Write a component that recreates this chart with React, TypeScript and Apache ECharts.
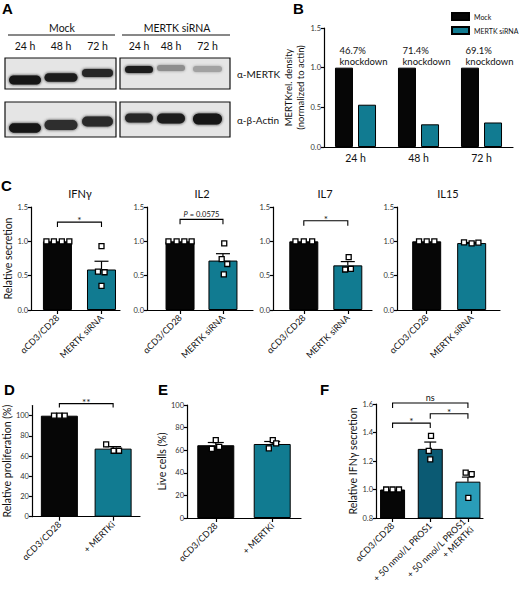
import React, { useEffect, useRef } from 'react';
import * as echarts from 'echarts';

const FONT = 'Lato';
const BLACK = '#060606';
const TEAL = '#117b91';
const TEAL_DARK = '#0b5a73';
const TEAL_LIGHT = '#2a9db8';

// ---------- Panel B ----------
const timeLabels = ['24 h', '48 h', '72 h'];
const mockDensity = [1, 1, 1];
const sirnaDensity = [0.533, 0.286, 0.309];
const knockdownLabels = ['46.7%', '71.4%', '69.1%'];
const bYTicks = [0, 0.5, 1, 1.5];

// ---------- Panel C ----------
const cGroups = ['αCD3/CD28', 'MERTK siRNA'];
const cytokines = ['IFNγ', 'IL2', 'IL7', 'IL15'];
const cCtrlMeans = [1, 1, 1, 1];
const cSirnaMeans = [0.59, 0.72, 0.65, 0.975];
const cSirnaSem = [0.12, 0.1, 0.055, 0.008];
const cCtrlPoints = [[1, 1, 1, 1], [1, 1, 1, 1], [1, 1, 1], [1, 1, 1]];
const cCtrlJitter = [[-0.25, -0.08, 0.1, 0.27], [-0.27, -0.08, 0.1, 0.27], [-0.19, 0, 0.19], [-0.17, 0, 0.17]];
const cSirnaPoints = [[0.93, 0.56, 0.55, 0.35], [0.97, 0.74, 0.67, 0.52], [0.77, 0.59, 0.6], [0.985, 0.97, 0.98]];
const cSirnaJitter = [[0, -0.08, 0.07, 0], [0.03, -0.03, 0.1, 0.02], [0.02, -0.06, 0.07], [-0.17, 0, 0.15]];
const cSigLabels = ['*', '{i|P} = 0.0575', '*', ''];
const cSigLevels = [1.28, 1.32, 1.3, 0];
const cYTicks = [0, 0.5, 1, 1.5];

// ---------- Panel D ----------
const dGroups = ['αCD3/CD28', '+ MERTKi'];
const dMeans = [100, 67.4];
const dSem = [0, 2];
const dPoints = [[100, 100, 100], [71.7, 65.3, 65.3]];
const dJitter = [[-0.1, 0, 0.1], [-0.13, 0.01, 0.11]];
const dYTicks = [0, 20, 40, 60, 80, 100];
const dSigLabel = '**';
const dSigLevel = 112;

// ---------- Panel E ----------
const eGroups = ['αCD3/CD28', '+ MERTKi'];
const eMeans = [64.4, 65.5];
const eSem = [2.4, 2.2];
const ePoints = [[69, 61.2, 63], [69, 61.6, 66]];
const eJitter = [[0, -0.07, 0.06], [0.01, -0.06, 0.07]];
const eYTicks = [0, 20, 40, 60, 80, 100];

// ---------- Panel F ----------
const fGroups = ['αCD3/CD28', '+ 50 nmol/L PROS1', '+ 50 nmol/L PROS1\n+ MERTKi'];
const fMeans = [1, 1.285, 1.055];
const fSem = [0, 0.048, 0.032];
const fPoints = [[1, 1, 1], [1.377, 1.271, 1.212], [1.118, 1.108, 0.941]];
const fJitter = [[-0.17, 0, 0.17], [0.02, -0.04, 0], [-0.06, 0.1, 0.01]];
const fYTicks = [0.8, 1.0, 1.2, 1.4, 1.6];
const fSigFrom = [0, 0, 1];
const fSigTo = [2, 1, 2];
const fSigLevels = [1.607, 1.466, 1.532];
const fSigLabels = ['ns', '*', '*'];

const lineStyle = { color: '#000', width: 1.2 };

function valueXAxis(gridIndex: number, min: number, max: number, labels: string[]) {
  const idx = labels.map((_, i) => i);
  return {
    type: 'value', gridIndex, min, max,
    splitLine: { show: false },
    axisLine: { show: true, onZero: false, lineStyle },
    axisTick: { show: true, customValues: idx, length: 4, lineStyle },
    axisLabel: {
      customValues: idx,
      formatter: (v: number) => labels[Math.round(v)] ?? '',
      rotate: 45, fontSize: 9, color: '#111', margin: 6, fontFamily: FONT, lineHeight: 11,
    },
  };
}

function valueYAxis(gridIndex: number, min: number, max: number, ticks: number[], digits: number, name: string, nameGap: number) {
  return {
    type: 'value', gridIndex, min, max,
    splitLine: { show: false },
    axisLine: { show: true, onZero: false, lineStyle },
    axisTick: { show: true, customValues: ticks, length: 3, lineStyle },
    axisLabel: { customValues: ticks, formatter: (v: number) => v.toFixed(digits), fontSize: 7.5, color: '#333', margin: 3, fontFamily: FONT },
    name, nameLocation: 'middle', nameRotate: 90, nameGap,
    nameTextStyle: { fontSize: 10.5, color: '#111', fontFamily: FONT },
  };
}

function barSeries(g: number, means: number[], colors: string[], barWidth: number) {
  return {
    type: 'bar', xAxisIndex: g, yAxisIndex: g, barWidth, z: 2,
    data: means.map((m, i) => ({ value: [i, m], itemStyle: { color: colors[i], borderColor: '#000', borderWidth: 1 } })),
  };
}

function pointSeries(g: number, points: number[][], jitter: number[][]) {
  const data: number[][] = [];
  points.forEach((grp, i) => grp.forEach((v, k) => data.push([i + jitter[i][k], v])));
  return {
    type: 'scatter', xAxisIndex: g, yAxisIndex: g, z: 6, symbol: 'rect', symbolSize: 5,
    itemStyle: { color: '#fff', borderColor: '#000', borderWidth: 1.3, opacity: 1 },
    data,
  };
}

function errorSeries(g: number, means: number[], sems: number[], capHalf: number) {
  return {
    type: 'custom', xAxisIndex: g, yAxisIndex: g, z: 4,
    dimensions: ['x', 'm', 's'], encode: { x: 0, y: 1 },
    data: means.map((m, i) => [i, m, sems[i]]),
    renderItem: (_p: any, api: any) => {
      const x = api.value(0), m = api.value(1), s = api.value(2);
      if (!s) return { type: 'group', children: [] };
      const p0 = api.coord([x, m]);
      const p1 = api.coord([x, m + s]);
      return {
        type: 'group', children: [
          { type: 'line', shape: { x1: p0[0], y1: p0[1], x2: p1[0], y2: p1[1] }, style: { stroke: '#000', lineWidth: 1.2, fill: 'none' } },
          { type: 'line', shape: { x1: p1[0] - capHalf, y1: p1[1], x2: p1[0] + capHalf, y2: p1[1] }, style: { stroke: '#000', lineWidth: 1.2, fill: 'none' } },
        ],
      };
    },
  };
}

function bracketSeries(g: number, froms: number[], tos: number[], levels: number[], labels: string[], drop: number) {
  return {
    type: 'custom', xAxisIndex: g, yAxisIndex: g, z: 5,
    dimensions: ['a', 'b', 'y'], encode: { x: [0, 1], y: 2 },
    data: froms.map((f, i) => [f, tos[i], levels[i]]),
    renderItem: (params: any, api: any) => {
      const label = labels[params.dataIndex];
      const a = api.coord([api.value(0), api.value(2)]);
      const b = api.coord([api.value(1), api.value(2)]);
      const star = label.indexOf('*') === 0;
      const dy = star ? 2 : label === 'ns' ? 6 : 5;
      return {
        type: 'group', children: [
          { type: 'polyline', shape: { points: [[a[0], a[1] + drop], [a[0], a[1]], [b[0], b[1]], [b[0], b[1] + drop]] }, style: { stroke: '#000', lineWidth: 1.1, fill: 'none' } },
          {
            type: 'text', x: (a[0] + b[0]) / 2, y: a[1] - dy,
            style: {
              text: label, align: 'center', verticalAlign: 'middle', fill: '#111', fontFamily: FONT,
              fontSize: star ? 10 : label === 'ns' ? 9 : 7.5,
              rich: { i: { fontStyle: 'italic', fontSize: 7.5, fontFamily: FONT } },
            },
          },
        ],
      };
    },
  };
}

function panelAGraphics() {
  const els: any[] = [];
  const txt = (text: string, x: number, y: number, size: number, align = 'center', extra: any = {}) =>
    els.push({ type: 'text', x, y, style: { text, fontSize: size, fontFamily: FONT, fill: '#111', align, verticalAlign: 'middle', ...extra } });
  txt('Mock', 62, 28, 10.5);
  txt('MERTK siRNA', 177, 28, 10.5);
  els.push({ type: 'line', shape: { x1: 8, y1: 35, x2: 115, y2: 35 }, style: { stroke: '#111', lineWidth: 1 } });
  els.push({ type: 'line', shape: { x1: 122, y1: 35, x2: 230, y2: 35 }, style: { stroke: '#111', lineWidth: 1 } });
  const laneX = [25, 61, 97.5, 139, 171, 207.5];
  const laneW = [32, 33, 31, 28, 28, 29];
  laneX.forEach((x, i) => txt(timeLabels[i % 3], x, 46, 10.5));
  const boxes = [[5, 58, 111, 31], [120, 58, 110, 31], [5, 102, 111, 35], [120, 102, 110, 35]];
  boxes.forEach(([x, y, w, h]) => els.push({ type: 'rect', shape: { x, y, width: w, height: h }, style: { fill: '#e5e5e5', stroke: '#111', lineWidth: 1.2 } }));
  const mY = [80, 77.5, 73, 69.5, 68, 69];
  const mH = [9, 8.5, 8, 7, 6, 6];
  const mC = ['#141414', '#1b1b1b', '#262626', '#1e1e1e', '#8e8e8e', '#a2a2a2'];
  const aY = [128, 125, 121.5, 118, 118.5, 119];
  const aH = [9.5, 10, 10, 9, 10, 11];
  const aC = ['#141414', '#2e2e2e', '#2b2b2b', '#272727', '#1c1c1c', '#121212'];
  laneX.forEach((x, i) => {
    const w = laneW[i];
    els.push({ type: 'rect', shape: { x: x - w / 2, y: mY[i] - mH[i] / 2, width: w, height: mH[i], r: mH[i] / 2 }, style: { fill: mC[i], shadowBlur: 3, shadowColor: mC[i] } });
    els.push({ type: 'rect', shape: { x: x - w / 2, y: aY[i] - aH[i] / 2, width: w, height: aH[i], r: aH[i] / 2 }, style: { fill: aC[i], shadowBlur: 3, shadowColor: aC[i] } });
  });
  txt('α-MERTK', 237, 74, 10, 'left');
  txt('α-β-Actin', 237, 120, 10, 'left');
  return els;
}

function buildOption() {
  const grid: any[] = [];
  const xAxis: any[] = [];
  const yAxis: any[] = [];
  const series: any[] = [];

  // Panel B (grid 0)
  grid.push({ left: 324, top: 28, width: 189, height: 119 });
  xAxis.push({
    type: 'category', gridIndex: 0, data: timeLabels,
    axisLine: { lineStyle }, axisTick: { alignWithLabel: true, length: 4, lineStyle },
    axisLabel: { fontSize: 10.5, color: '#111', margin: 5, fontFamily: FONT },
  });
  yAxis.push({
    type: 'value', gridIndex: 0, min: 0, max: 1.5, interval: 0.5,
    splitLine: { show: false },
    axisLine: { show: true, lineStyle }, axisTick: { show: true, length: 3, lineStyle },
    axisLabel: { formatter: (v: number) => v.toFixed(1), fontSize: 7.5, color: '#333', margin: 3, fontFamily: FONT, customValues: bYTicks },
    name: 'MERTKrel. density\n(normalized to actin)', nameLocation: 'middle', nameRotate: 90, nameGap: 15,
    nameTextStyle: { fontSize: 9.5, color: '#111', fontFamily: FONT, lineHeight: 12 },
  });
  series.push({ name: 'Mock', type: 'bar', xAxisIndex: 0, yAxisIndex: 0, barWidth: 18, barGap: '28%', data: mockDensity, itemStyle: { color: BLACK, borderColor: '#000', borderWidth: 1 } });
  series.push({ name: 'MERTK siRNA', type: 'bar', xAxisIndex: 0, yAxisIndex: 0, barWidth: 18, data: sirnaDensity, itemStyle: { color: TEAL, borderColor: '#000', borderWidth: 1 } });
  series.push({
    type: 'custom', xAxisIndex: 0, yAxisIndex: 0, z: 5,
    data: knockdownLabels.map((_, i) => [i, 1.15]),
    renderItem: (params: any, api: any) => {
      const p = api.coord([api.value(0), api.value(1)]);
      return {
        type: 'text', x: p[0] - 16, y: p[1],
        style: { text: knockdownLabels[params.dataIndex] + '\nknockdown', align: 'left', verticalAlign: 'middle', fontSize: 9.5, lineHeight: 11.5, fontFamily: FONT, fill: '#111' },
      };
    },
  });

  // Panel C (grids 1-4)
  const cLayout = [
    { left: 31, width: 89, min: -0.6, max: 1.42 },
    { left: 147, width: 106, min: -0.77, max: 1.7 },
    { left: 273, width: 99, min: -0.7, max: 1.55 },
    { left: 397, width: 103, min: -0.66, max: 1.63 },
  ];
  cLayout.forEach((l, k) => {
    const g = 1 + k;
    grid.push({ left: l.left, top: 207, width: l.width, height: 103 });
    xAxis.push(valueXAxis(g, l.min, l.max, cGroups));
    yAxis.push(valueYAxis(g, 0, 1.5, cYTicks, 1, k === 0 ? 'Relative secretion' : '', 13));
    series.push(barSeries(g, [cCtrlMeans[k], cSirnaMeans[k]], [BLACK, TEAL], 29));
    series.push(errorSeries(g, [cCtrlMeans[k], cSirnaMeans[k]], [0, cSirnaSem[k]], 7));
    series.push(pointSeries(g, [cCtrlPoints[k], cSirnaPoints[k]], [cCtrlJitter[k], cSirnaJitter[k]]));
    if (cSigLabels[k]) series.push(bracketSeries(g, [0], [1], [cSigLevels[k]], [cSigLabels[k]], 5));
  });

  // Panel D (grid 5)
  grid.push({ left: 28, top: 405.6, width: 112, height: 111.1 });
  xAxis.push(valueXAxis(5, -0.51, 1.5, dGroups));
  yAxis.push(valueYAxis(5, 0, 110, dYTicks, 0, 'Relative proliferation (%)', 14));
  series.push(barSeries(5, dMeans, [BLACK, TEAL], 37));
  series.push(errorSeries(5, dMeans, dSem, 8));
  series.push(pointSeries(5, dPoints, dJitter));
  series.push(bracketSeries(5, [0], [1], [dSigLevel], [dSigLabel], 4));

  // Panel E (grid 6)
  grid.push({ left: 187, top: 405, width: 114, height: 113 });
  xAxis.push(valueXAxis(6, -0.51, 1.51, eGroups));
  yAxis.push(valueYAxis(6, 0, 100, eYTicks, 0, 'Live cells (%)', 11));
  series.push(barSeries(6, eMeans, [BLACK, TEAL], 37));
  series.push(errorSeries(6, eMeans, eSem, 8));
  series.push(pointSeries(6, ePoints, eJitter));

  // Panel F (grid 7)
  grid.push({ left: 376, top: 404, width: 107, height: 114 });
  xAxis.push(valueXAxis(7, -0.44, 2.4, fGroups));
  yAxis.push(valueYAxis(7, 0.8, 1.6, fYTicks, 1, 'Relative IFNγ secretion', 16));
  series.push(barSeries(7, fMeans, [BLACK, TEAL_DARK, TEAL_LIGHT], 25));
  series.push(errorSeries(7, fMeans, fSem, 6));
  series.push(pointSeries(7, fPoints, fJitter));
  series.push(bracketSeries(7, fSigFrom, fSigTo, fSigLevels, fSigLabels, 5));

  const letters: [string, number, number][] = [['A', 2, 8], ['B', 293, 8], ['C', 1, 185], ['D', 4, 389], ['E', 158, 389], ['F', 320, 389]];
  const titleX = [80, 202, 325, 448];
  const graphic: any[] = [
    ...letters.map(([t, x, y]) => ({ type: 'text', x, y, style: { text: t, fontSize: 15, fontWeight: 'bold', fontFamily: 'Liberation Sans', fill: '#000', verticalAlign: 'middle' } })),
    ...cytokines.map((t, i) => ({ type: 'text', x: titleX[i], y: 193, style: { text: t, fontSize: 11, fontFamily: FONT, fill: '#111', align: 'center', verticalAlign: 'middle' } })),
    ...panelAGraphics(),
  ];

  return {
    animation: false,
    backgroundColor: '#fff',
    textStyle: { fontFamily: FONT },
    legend: {
      data: ['Mock', 'MERTK siRNA'], left: 451, top: 12, orient: 'vertical', icon: 'rect',
      itemWidth: 17, itemHeight: 7, itemGap: 5, padding: 0,
      textStyle: { fontSize: 7, fontFamily: FONT, color: '#111' },
    },
    grid, xAxis, yAxis, series, graphic,
  };
}

export default function App() {
  const ref = useRef<HTMLDivElement>(null);
  useEffect(() => {
    document.body.style.margin = '0';
    const chart = echarts.init(ref.current!, null, { renderer: 'svg' });
    chart.setOption(buildOption() as any);
    return () => chart.dispose();
  }, []);
  return <div ref={ref} style={{ width: 520, height: 591, background: '#fff' }} />;
}
